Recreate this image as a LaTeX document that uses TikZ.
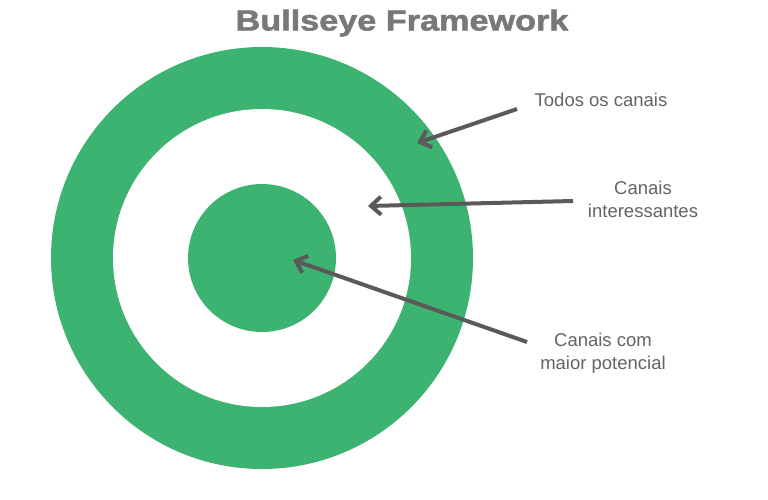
\documentclass[tikz,border=0pt]{standalone}
\usepackage{fontspec}
\setmainfont{Liberation Sans}
\newfontfamily\titlefont[FakeBold=1.6]{Liberation Sans Bold}
\usepackage{xcolor}
\usetikzlibrary{arrows.meta}
\definecolor{bullgreen}{HTML}{3DB372}
\definecolor{arrowgray}{HTML}{5A5A5A}
\definecolor{labelgray}{HTML}{646464}
\definecolor{titlegray}{HTML}{787878}

\begin{document}
\begin{tikzpicture}[
  x=1pt, y=-1pt,
  ring/.style={circle, inner sep=0pt, fill=bullgreen},
  hole/.style={circle, inner sep=0pt, fill=white},
  lbl/.style={align=center, text=labelgray, font=\fontsize{18.5}{23}\selectfont},
  arr/.style={-{Straight Barb[length=10pt,width=18pt]}, line width=4pt, draw=arrowgray}
]
\useasboundingbox[fill=white] (0,0) rectangle (768,499);
\node[xscale=1.18, transform shape, text=titlegray, font=\fontsize{29}{32}\titlefont] (title) at (402,23) {Bullseye Framework};
% target
\node[ring, minimum size=422pt] (outer) at (262,258) {};
\node[hole, minimum size=298pt] (middle) at (262,258) {};
\node[ring, minimum size=148pt] (inner) at (262,258) {};
% labels
\node[lbl] (all) at (601,100) {Todos os canais};
\node[lbl] (good) at (643,199) {Canais\\interessantes};
\node[lbl] (best) at (603,353) {Canais com\\maior potencial};
% arrows
\coordinate (allfrom) at (517,109);
\coordinate (allto) at (417,143);
\coordinate (goodfrom) at (573,201);
\coordinate (goodto) at (368,206);
\coordinate (bestfrom) at (527,342);
\coordinate (bestto) at (293,260);
\draw[arr] (allfrom) -- (allto);
\draw[arr] (goodfrom) -- (goodto);
\draw[arr] (bestfrom) -- (bestto);
\end{tikzpicture}
\end{document}
